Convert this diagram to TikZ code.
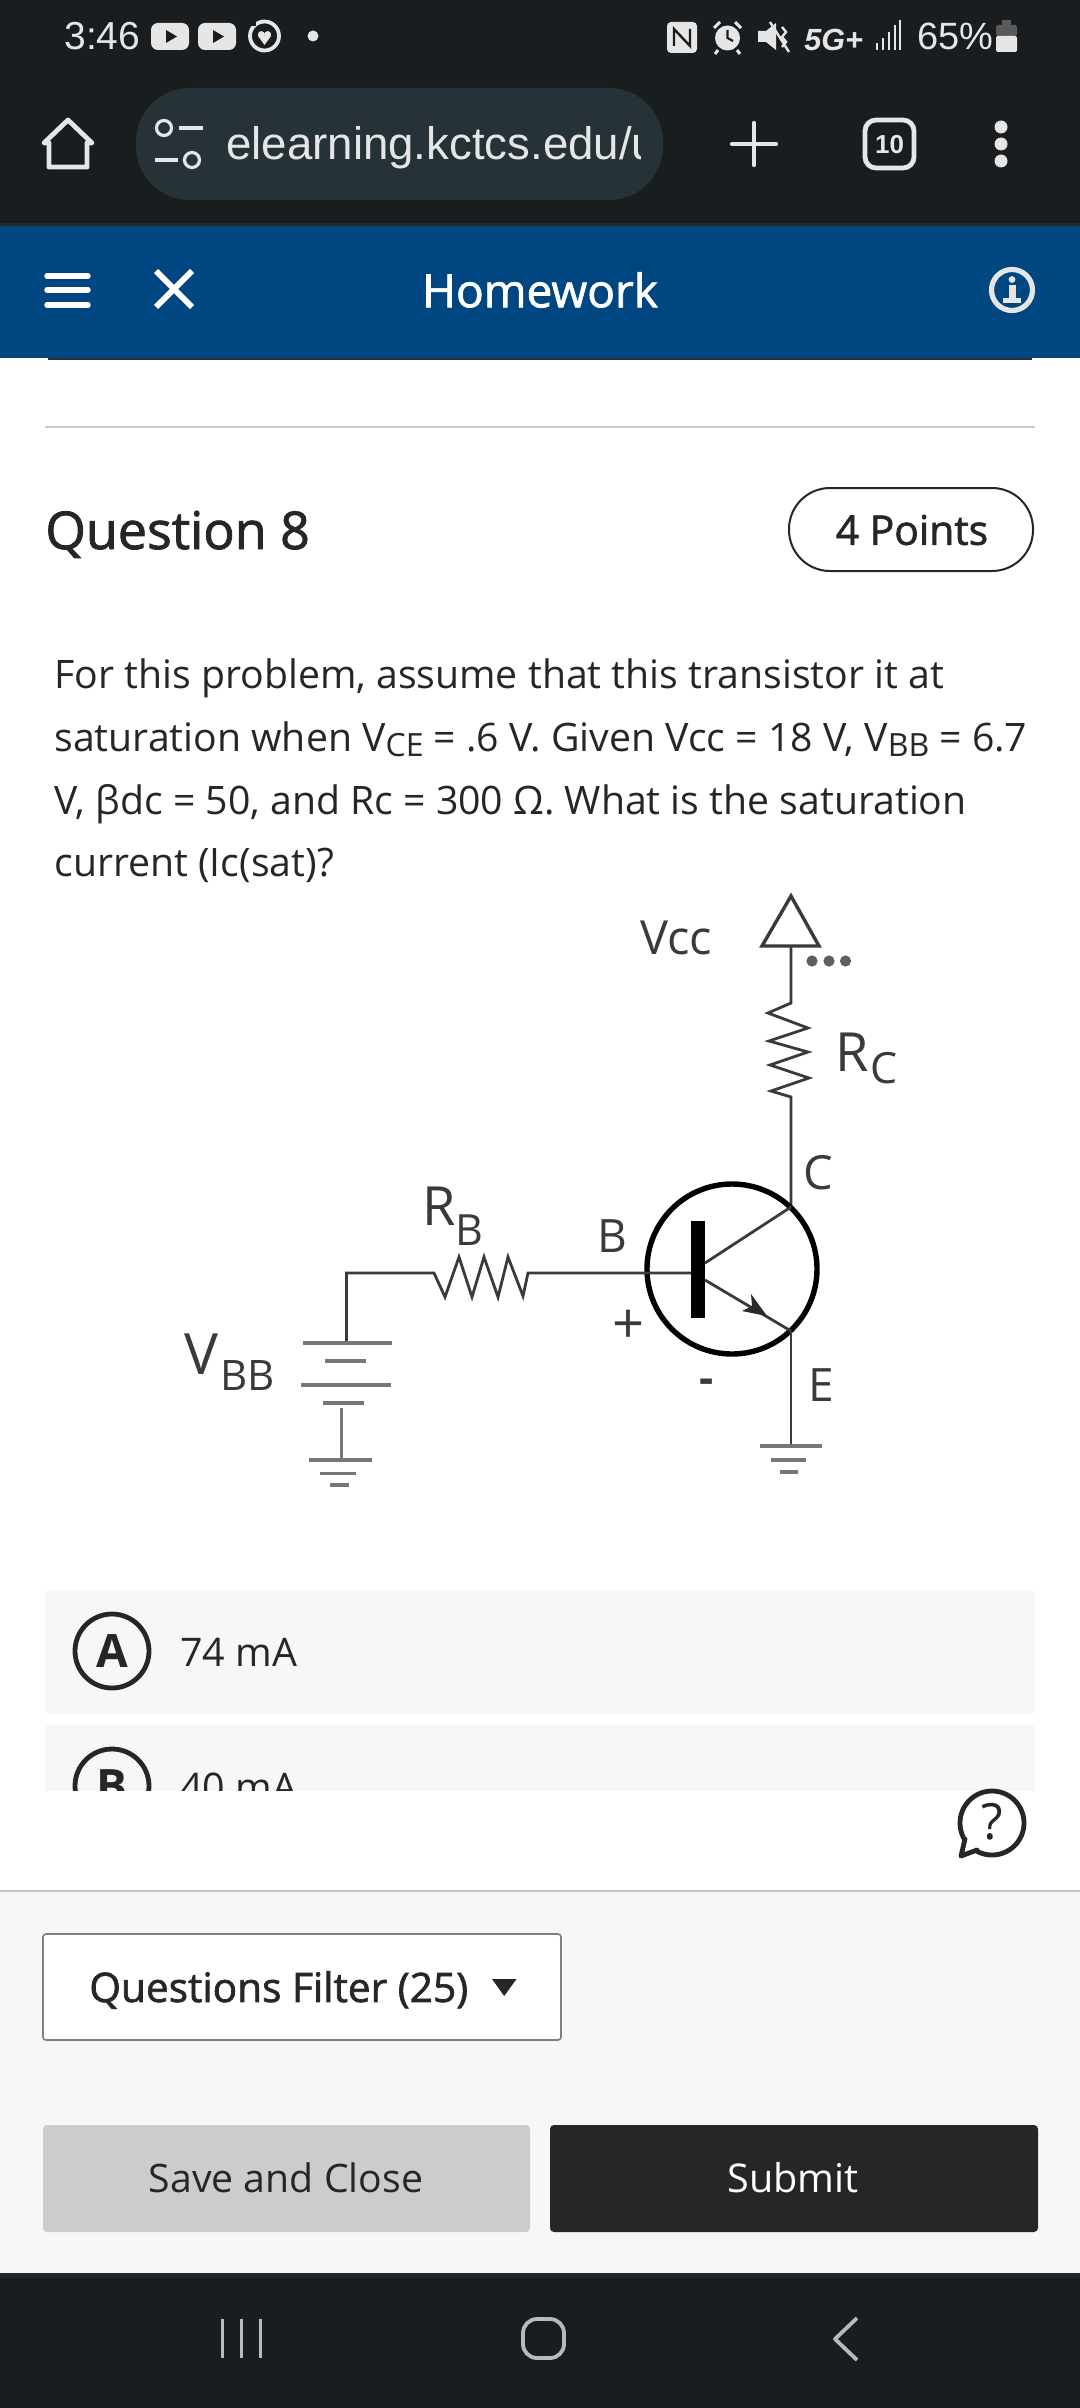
\documentclass[tikz,border=0pt]{standalone}
\usepackage{fontspec}
\setmainfont{Open Sans}
\newfontfamily\semi[FakeBold=1.6]{Open Sans}
\newfontfamily\rob{Liberation Sans}
\usetikzlibrary{arrows.meta}
\definecolor{darkbar}{HTML}{191D20}
\definecolor{pill}{HTML}{263238}
\definecolor{blubar}{HTML}{004681}
\definecolor{ink}{HTML}{262626}
\definecolor{pale}{HTML}{F7F7F7}
\definecolor{icon}{HTML}{E6E6E6}
\definecolor{wire}{HTML}{3A3A3A}
\definecolor{gwire}{HTML}{777777}
\newcommand{\fz}[1]{\fontsize{#1pt}{#1pt}\selectfont}
\newcommand{\sub}[1]{\raisebox{-2.8pt}{#1}}
\tikzset{
 lbl/.style={inner sep=0pt,text=ink},
 basel/.style={lbl,anchor=base west},
 body/.style={basel,font=\fz{19.6}},
 wireln/.style={wire,line width=1.4pt},
 grayln/.style={gwire,line width=1.6pt},
 circ/.style={inner sep=0pt,text=wire},
}
\begin{document}
\begin{tikzpicture}[x=0.5pt,y=-0.5pt]
\useasboundingbox (0,0) rectangle (1080,2408);
\fill[white] (0,0) rectangle (1080,2408);
% top bars
\fill[darkbar] (0,0) rectangle (1080,223);
\fill[pill!80!black] (0,223) rectangle (1080,226);
\fill[blubar] (0,226) rectangle (1080,358);
\fill[pill] (48,358) rectangle (1032,360);
% status bar
\node[lbl,text=icon,anchor=west,font=\rob\fz{19.5}] (clock) at (64,36) {3:46};
\foreach \x in {151,198}{
 \fill[icon,rounded corners=3.5pt] (\x,23) rectangle (\x+38,50);
 \fill[darkbar] (\x+15,30) -- (\x+26,36.5) -- (\x+15,43) -- cycle;
}
\draw[icon,line width=1.9pt] (264.5,36) circle[radius=14.5];
\fill[darkbar] (249,19) rectangle (256,26);
\fill[icon] (258,36) -- (264.5,45) -- (271,36) -- cycle;
\fill[icon] (261.3,34.5) circle[radius=3.4] (267.7,34.5) circle[radius=3.4];
\fill[icon] (313,36) circle[radius=5.5];
\fill[icon,rounded corners=2pt] (667,22) rectangle (697,53);
\draw[darkbar,line width=1.2pt] (674,46) -- (674,29) -- (690,46) -- (690,29);
\fill[icon] (727.5,38) circle[radius=12.5];
\draw[darkbar,line width=1.1pt] (727.5,30) -- (727.5,38) -- (733,41);
\draw[icon,line width=1.5pt] (714,28) -- (720,22) (735,22) -- (741,28) (718,50) -- (715,54) (737,50) -- (740,54);
\fill[icon] (758,31) -- (766,31) -- (776,23) -- (776,50) -- (766,42) -- (758,42) -- cycle;
\draw[icon,line width=1.2pt] (770,22) -- (789,52) (782,27) -- (786,32) -- (782,37) -- (786,42) -- (782,47);
\node[lbl,text=icon,anchor=west,font=\rob\bfseries\itshape\fz{15.3}] (net) at (804,40) {5G+};
\foreach \x/\h in {877/7,883/12,889/18,895/25,900/30}{\draw[icon,line width=1pt] (\x,50) -- (\x,50-\h);}
\node[lbl,text=icon,anchor=west,font=\rob\fz{19}] (batt) at (917,36) {65\%};
\fill[gray!70!black,rounded corners=1pt] (996,25) rectangle (1017,36);
\fill[gray!70!black] (1002,20) rectangle (1011,26);
\fill[icon,rounded corners=1pt] (996,36) rectangle (1017,52);
% address row
\draw[icon,line width=2.4pt,line join=round] (68,167) -- (49,167) -- (49,143) -- (44,143) -- (68,120) -- (92,143) -- (87,143) -- (87,167) -- cycle;
\fill[pill,rounded corners=27pt] (136,88) rectangle (663,200);
\draw[icon,line width=1.6pt] (164,128) circle[radius=7.5] (192,160) circle[radius=7.5];
\draw[icon,line width=2pt] (179,128) -- (203,128) (155,160) -- (178,160);
\begin{scope}
\clip (200,100) rectangle (640,190);
\node[lbl,text=icon,anchor=base west,font=\rob\fz{22.8}] (url) at (226,160) {elearning.kctcs.edu/u};
\end{scope}
\draw[icon,line width=2.2pt,line cap=round] (754,123) -- (754,165) (732,144) -- (776,144);
\draw[icon,line width=2.4pt,rounded corners=5.5pt] (865,120) rectangle (914,168);
\node[lbl,text=icon,font=\rob\bfseries\fz{13}] (tabs) at (889.5,145) {10};
\foreach \y in {127,144,161}{\fill[icon] (1001,\y) circle[radius=6.5];}
% blue bar
\foreach \y in {276,290,305}{\draw[white,line width=2.7pt,line cap=round] (47,\y) -- (88,\y);}
\draw[white,line width=3pt] (156,271) -- (192,307) (192,271) -- (156,307);
\node[lbl,text=white,font=\semi\fz{23}] (title) at (540,290) {Homework};
\draw[white!80!gray,line width=2.6pt] (1012,290) circle[radius=20.5];
\fill[white!80!gray] (1012,279.5) circle[radius=3.4];
\fill[white!80!gray] (1006,285) rectangle (1016,300);
\fill[white!80!gray] (1003,298) rectangle (1021,303);
\fill[blubar] (1006,285) rectangle (1008.5,298);
% heading
\draw[gray!40,line width=1pt] (45,427) -- (1035,427);
\node[basel,font=\semi\fz{26}] (q8) at (45,549) {Question 8};
\draw[ink,line width=1pt,rounded corners=20.5pt] (789,488) rectangle (1033,571);
\node[lbl,font=\semi\fz{20.4}] (pts) at (912,530) {4 Points};
% body
\node[body] (l1) at (54,688) {For this problem, assume that this transistor it at};
\node[body] (l2) at (54,751) {saturation when V\sub{\fz{16}CE} = .6 V. Given Vcc = 18 V, V\sub{\fz{16}BB} = 6.7};
\node[body] (l3) at (54,814) {V, βdc = 50, and Rc = 300 Ω. What is the saturation};
\node[body] (l4) at (54,876) {current (Ic(sat)?};
% circuit coordinates
\coordinate (vcctop) at (791,896);
\coordinate (vccbase) at (791,946);
\coordinate (rct) at (791,1003);
\coordinate (rcb) at (791,1097);
\coordinate (coll) at (791,1207);
\coordinate (emit) at (791,1331);
\coordinate (gnd1) at (791,1446);
\coordinate (bcorner) at (346.5,1273);
\coordinate (rbl) at (434,1273);
\coordinate (rbr) at (528,1273);
\coordinate (bjoin) at (691,1273);
\coordinate (batt1) at (346.5,1343);
\coordinate (batt2) at (341.5,1408);
\coordinate (gnd2) at (341.5,1460);
\draw[wire,line width=1.7pt,line join=miter] (762,946) -- (vcctop) -- (819,946) -- cycle;
\draw[wireln] (vccbase) -- (rct) -- (768,1013) -- (808,1028) -- (769,1041) -- (808,1052) -- (770,1065) -- (809,1078) -- (771,1091) -- (rcb) -- (coll);
\fill[gwire!80!black] (812,961) circle[radius=5.6] (829,961) circle[radius=5.6] (845.5,961) circle[radius=5.6];
\draw[black,line width=2.7pt] (732,1269) circle[radius=85];
\fill[black] (691,1221) rectangle (705,1318);
\draw[wireln] (705,1263) -- (coll);
\draw[wireln] (705,1280) -- (emit);
\fill[wire!70!black] (767,1316) -- (742,1311) -- (752,1306) -- (751,1294) -- cycle;
\draw[wireln] (emit) -- (gnd1);
\draw[wireln] (batt1) -- (bcorner) -- (rbl) -- (445,1297) -- (459,1257) -- (472,1297) -- (484,1257) -- (498,1297) -- (508,1257) -- (523,1296) -- (rbr) -- (bjoin);
\draw[grayln] (303,1343) -- (392,1343) (325,1361) -- (366,1361) (301,1385) -- (391,1385) (323,1403) -- (364,1403);
\draw[grayln] (batt2) -- (gnd2);
\draw[grayln] (309,1460) -- (372,1460) (320,1473.5) -- (355.5,1473.5) (330,1485) -- (349,1485);
\draw[grayln] (759.5,1446) -- (821.6,1446) (771,1460) -- (806,1460) (779.5,1472) -- (798,1472);
% circuit labels
\node[circ,anchor=base west,font=\fz{23.5}] (vcc) at (640,954) {Vcc};
\node[circ,anchor=base west,font=\fz{27}] (rc) at (835,1071) {R};
\node[circ,anchor=base west,font=\fz{21.5}] (rcs) at (870,1083) {C};
\node[circ,anchor=base west,font=\fz{23.5}] (lc) at (803,1189) {C};
\node[circ,anchor=base west,font=\fz{23}] (lb) at (597,1252) {B};
\node[circ,anchor=base west,font=\fz{23}] (le) at (808,1401) {E};
\node[circ,anchor=base west,font=\fz{27}] (rb) at (422,1225) {R};
\node[circ,anchor=base west,font=\fz{21.5}] (rbs) at (455,1245) {B};
\node[circ,anchor=base west,font=\fz{28.5}] (vb) at (184,1374) {V};
\node[circ,anchor=base west,font=\fz{21}] (vbs) at (220,1390) {BB};
\node[circ,font=\fz{28}] (plus) at (628.5,1327) {+};
\node[circ,font=\bfseries\fz{22}] (minus) at (707,1386) {-};
% options
\fill[pale,rounded corners=2pt] (45,1590) rectangle (1035,1714);
\draw[ink,line width=2.4pt] (112,1651) circle[radius=37];
\node[lbl,font=\bfseries\fz{23}] (a) at (112,1651) {A};
\node[lbl,anchor=west,font=\fz{19.7}] (aval) at (180,1652) {74 mA};
\begin{scope}
\clip (0,1700) rectangle (1080,1790);
\fill[pale,rounded corners=2pt] (45,1725) rectangle (1035,1849);
\draw[ink,line width=2.4pt] (112,1786) circle[radius=37];
\node[lbl,font=\bfseries\fz{23}] (b) at (112,1786) {B};
\node[lbl,anchor=west,font=\fz{19.7}] (bval) at (180,1787) {40 mA};
\end{scope}
% help icon
\draw[ink,line width=2.4pt] (992,1823) circle[radius=32];
\fill[white] (965,1836) -- (962,1856) -- (978,1850) -- cycle;
\draw[ink,line width=2.4pt,line join=round,line cap=round] (965,1839) -- (961,1856) -- (977,1850);
\node[lbl,font=\fz{25}] (help) at (992,1822) {?};
% footer
\fill[pale] (0,1891) rectangle (1080,2273);
\draw[gray!45,line width=1pt] (0,1891) -- (1080,1891);
\draw[gray,line width=0.8pt,rounded corners=1.5pt,fill=white] (43,1934) rectangle (561,2040);
\node[lbl,anchor=west,font=\semi\fz{20.3}] (filter) at (89,1990) {Questions Filter (25)};
\fill[ink] (492,1979) -- (516.5,1979) -- (504.2,1996) -- cycle;
\fill[gray!40,rounded corners=2pt] (43,2125) rectangle (530,2232);
\node[lbl,font=\fz{19.6}] (save) at (286,2178) {Save and Close};
\fill[ink,rounded corners=2pt] (550,2125) rectangle (1038,2232);
\node[lbl,text=white,font=\fz{19.8}] (submit) at (793,2178) {Submit};
% nav bar
\fill[pill!80!black] (0,2273) rectangle (1080,2278);
\fill[darkbar] (0,2278) rectangle (1080,2408);
\draw[gray!55,line width=1.5pt] (222,2319) -- (222,2358) (241,2319) -- (241,2358) (260,2319) -- (260,2358);
\draw[gray!55,line width=1.9pt,rounded corners=7pt] (523,2319) rectangle (564,2358);
\draw[gray!55,line width=1.9pt,line join=round] (857,2318) -- (835,2339) -- (857,2360);
\end{tikzpicture}
\end{document}
